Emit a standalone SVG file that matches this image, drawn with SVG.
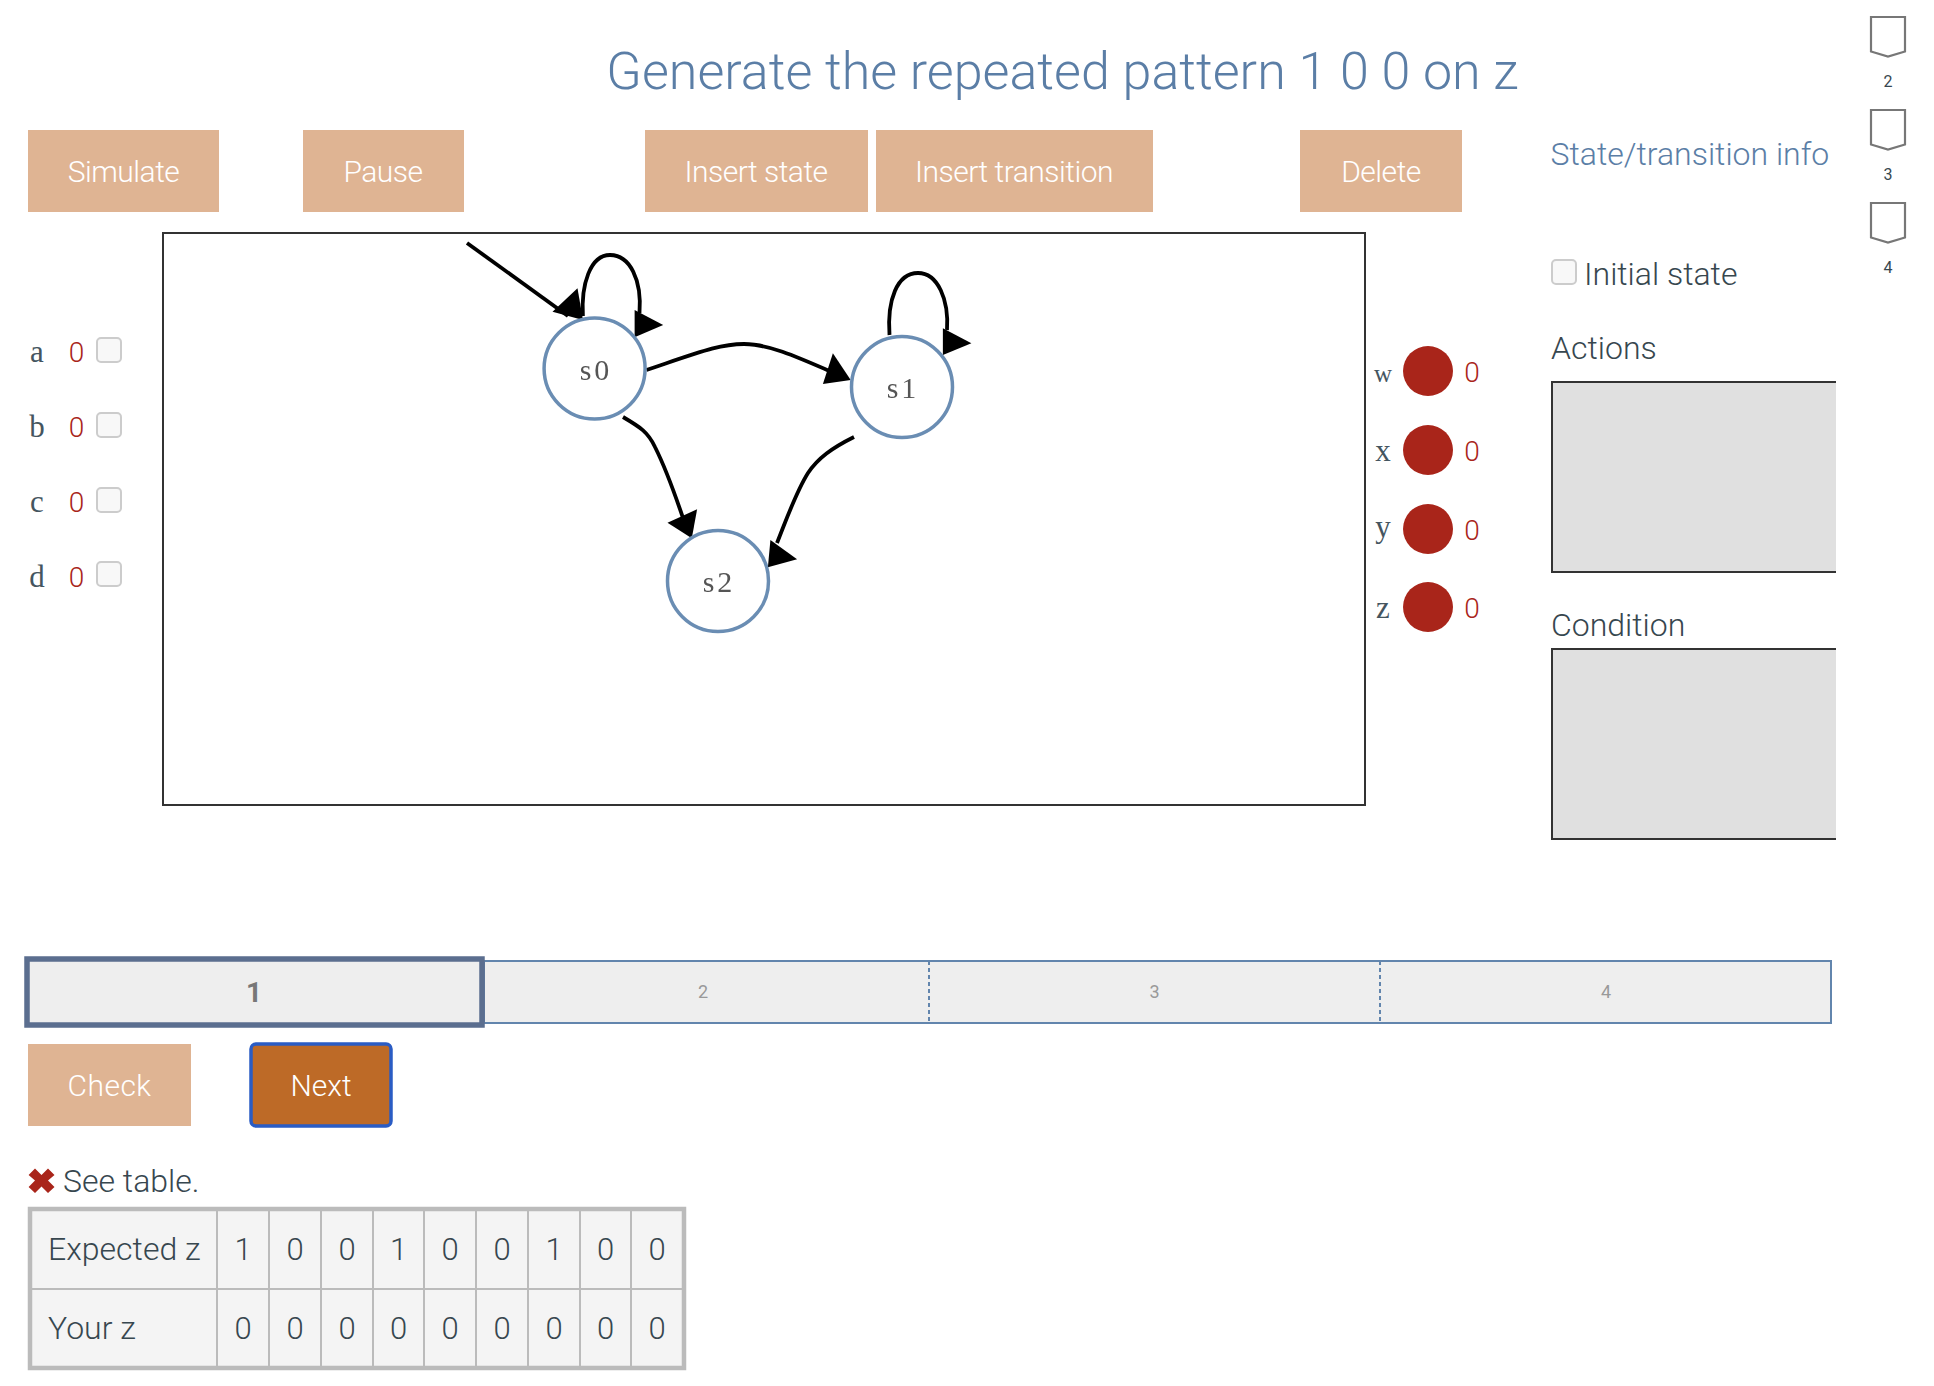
<svg xmlns="http://www.w3.org/2000/svg" width="1934" height="1386" viewBox="0 0 1934 1386">
<style>
text{font-family:Roboto,"Liberation Sans",sans-serif;font-weight:300;fill:#37474f}
.btn{fill:#dfb493}
.bt{fill:#fff;font-size:30px;text-anchor:middle;letter-spacing:-.5px}
.cb{fill:#f8f8f8;stroke:#ccc;stroke-width:2}
.mono{font-family:"Liberation Serif",serif;font-size:31px;font-weight:400;text-anchor:middle;fill:#455560}
.red{fill:#a9251a;font-size:28px;text-anchor:middle}
.led{fill:#a9251a}
.blue{fill:#5b7ea6}
.sh{fill:#fff;stroke:#777;stroke-width:2.2}
.sn{font-size:16px;text-anchor:middle;font-weight:400}
.ta{fill:#e0e0e0;stroke:#333;stroke-width:2}
.lab{font-size:32px}
.pn{font-size:18px;fill:#999;text-anchor:middle;font-weight:400}
.td{font-size:31px;text-anchor:middle}
.st{fill:#fff;stroke:#6a8db3;stroke-width:3.500}
.e{fill:none;stroke:#000;stroke-width:3.800}
.h{fill:#000}
.sl{font-family:"Liberation Serif",serif;font-size:30px;font-weight:400;text-anchor:middle;fill:#555;letter-spacing:3px}
.tl{stroke:#bbb;stroke-width:2}
</style>
<defs><filter id="soft" x="-5%" y="-5%" width="110%" height="110%"><feGaussianBlur stdDeviation="0.5"/></filter></defs>
<text id="title" x="1062.500" y="89" font-size="52" text-anchor="middle" class="blue">Generate the repeated pattern 1 0 0 on z</text>
<g id="btn-simulate"><rect class="btn" x="28" y="130" width="191" height="82"/><text class="bt" x="123.500" y="182">Simulate</text></g>
<g id="btn-pause"><rect class="btn" x="303" y="130" width="161" height="82"/><text class="bt" x="383" y="182">Pause</text></g>
<g id="btn-insert-state"><rect class="btn" x="645" y="130" width="223" height="82"/><text class="bt" x="756" y="182">Insert state</text></g>
<g id="btn-insert-transition"><rect class="btn" x="876" y="130" width="277" height="82"/><text class="bt" x="1014" y="182">Insert transition</text></g>
<g id="btn-delete"><rect class="btn" x="1300" y="130" width="162" height="82"/><text class="bt" x="1381" y="182">Delete</text></g>
<rect id="canvas" x="163" y="233" width="1202" height="572" fill="#fff" stroke="#333" stroke-width="2"/>
<g id="connectors" filter="url(#soft)">
<path class="e" d="M467 243L568 316"/><path class="h" d="M577.500 288.300L583 320L552.500 311.700Z"/>
<path class="e" d="M582.900 316C581 285 590 255 610 255C630 255 642 280 639.500 313"/><path class="h" d="M634.600 310L663.200 325L634.600 337.300Z"/>
<path class="e" d="M889.500 335C887 300 897 273 918 273C938 273 949 300 947 330"/><path class="h" d="M942.900 328.300L971.400 343.300L942.900 355Z"/>
<path class="e" d="M646.400 370C700 352 720 344 744 344C768 344 795 356 834 373"/><path class="h" d="M832.900 353.300L850.700 380L822.900 384Z"/>
<path class="e" d="M623 417C640 427 648 432 655 447C668 473 675 495 683 518"/><path class="h" d="M697.100 509.300L691.800 538.300L667.500 522.700Z"/>
<path class="e" d="M854 437C832 448 818 458 808 473C796 492 787 518 777 543"/><path class="h" d="M770.400 540L767.900 567.300L797.100 559.300Z"/>
</g>
<g id="s0" filter="url(#soft)"><circle class="st" cx="594.600" cy="368.500" r="50.500"/><text class="sl" x="596" y="380">s0</text></g>
<g id="s1" filter="url(#soft)"><circle class="st" cx="902" cy="387" r="50.500"/><text class="sl" x="903" y="398">s1</text></g>
<g id="s2" filter="url(#soft)"><circle class="st" cx="718" cy="581" r="50.500"/><text class="sl" x="719" y="592">s2</text></g>
<g id="in-a"><text class="mono" x="37" y="362">a</text><text class="red" x="76.500" y="362">0</text><rect class="cb" x="97" y="338" width="24" height="24" rx="4"/></g>
<g id="in-b"><text class="mono" x="37" y="437">b</text><text class="red" x="76.500" y="437">0</text><rect class="cb" x="97" y="413" width="24" height="24" rx="4"/></g>
<g id="in-c"><text class="mono" x="37" y="512">c</text><text class="red" x="76.500" y="512">0</text><rect class="cb" x="97" y="488" width="24" height="24" rx="4"/></g>
<g id="in-d"><text class="mono" x="37" y="587">d</text><text class="red" x="76.500" y="587">0</text><rect class="cb" x="97" y="562" width="24" height="24" rx="4"/></g>
<g id="out-w"><text class="mono" x="1383" y="382" style="font-size:25px">w</text><circle class="led" cx="1428" cy="371" r="25"/><text class="red" x="1472" y="382">0</text></g>
<g id="out-x"><text class="mono" x="1383" y="461">x</text><circle class="led" cx="1428" cy="450" r="25"/><text class="red" x="1472" y="461">0</text></g>
<g id="out-y"><text class="mono" x="1383" y="537">y</text><circle class="led" cx="1428" cy="529" r="25"/><text class="red" x="1472" y="540">0</text></g>
<g id="out-z"><text class="mono" x="1383" y="618">z</text><circle class="led" cx="1428" cy="607" r="25"/><text class="red" x="1472" y="618">0</text></g>
<text id="info" x="1550.500" y="165" font-size="32" class="blue">State/transition info</text>
<rect class="cb" x="1552" y="260" width="24" height="24" rx="4"/>
<text class="lab" x="1584" y="285">Initial state</text>
<text class="lab" x="1551" y="359">Actions</text>
<path class="ta" d="M1836 382H1552V572H1836" />
<text class="lab" x="1551" y="636">Condition</text>
<path class="ta" d="M1836 649H1552V839H1836"/>
<g id="tab-2"><path class="sh" d="M1871 17H1905V51.500L1888 56.500L1871 51.500Z"/><text class="sn" x="1888" y="87">2</text></g>
<g id="tab-3"><path class="sh" d="M1871 110H1905V144.500L1888 149.500L1871 144.500Z"/><text class="sn" x="1888" y="180">3</text></g>
<g id="tab-4"><path class="sh" d="M1871 203H1905V237.500L1888 242.500L1871 237.500Z"/><text class="sn" x="1888" y="273">4</text></g>
<g id="progress">
<rect x="484" y="961" width="1347" height="62" fill="#eee" stroke="#6285ad" stroke-width="2"/>
<path d="M929 961V1023M1380 961V1023" stroke="#6285ad" stroke-width="2" stroke-dasharray="4 3" fill="none"/>
<rect x="27" y="959" width="455" height="66" fill="#eee" stroke="#5b6e8f" stroke-width="5.500"/>
<text x="254" y="1002" font-size="28" text-anchor="middle" style="font-weight:700;fill:#777">1</text>
<text class="pn" x="703" y="998">2</text><text class="pn" x="1154.500" y="998">3</text><text class="pn" x="1606" y="998">4</text>
</g>
<g id="btn-check"><rect class="btn" x="28" y="1044" width="163" height="82"/><text class="bt" x="109.500" y="1096" style="letter-spacing:.5px">Check</text></g>
<g id="btn-next"><rect x="251" y="1044" width="140" height="82" rx="5" fill="#bd6a27" stroke="#2a5cc4" stroke-width="3.500"/><text class="bt" x="321" y="1096" style="letter-spacing:0">Next</text></g>
<path id="cross" d="M28.600 1175L35 1168.500L41.500 1175L48 1168.500L54.500 1175L48 1180.500L54.500 1187L48 1193L41.500 1186.500L35 1193L28.600 1187L35 1180.500Z" fill="#a9251a"/>
<text x="63" y="1192" font-size="32">See table.</text>
<g id="table">
<rect x="30" y="1209" width="654" height="159" fill="#f4f4f4" stroke="#bbb" stroke-width="4.500"/>
<path class="tl" d="M30 1289H684M217 1209V1368M269 1209V1368M321 1209V1368M373 1209V1368M424 1209V1368M476 1209V1368M528 1209V1368M580 1209V1368M631 1209V1368"/>
<text x="48" y="1260" font-size="32">Expected z</text><text x="48" y="1339" font-size="32">Your z</text>
<text class="td" x="243" y="1260">1</text><text class="td" x="295" y="1260">0</text><text class="td" x="347" y="1260">0</text><text class="td" x="398.500" y="1260">1</text><text class="td" x="450" y="1260">0</text><text class="td" x="502" y="1260">0</text><text class="td" x="554" y="1260">1</text><text class="td" x="605.500" y="1260">0</text><text class="td" x="657" y="1260">0</text>
<text class="td" x="243" y="1339">0</text><text class="td" x="295" y="1339">0</text><text class="td" x="347" y="1339">0</text><text class="td" x="398.500" y="1339">0</text><text class="td" x="450" y="1339">0</text><text class="td" x="502" y="1339">0</text><text class="td" x="554" y="1339">0</text><text class="td" x="605.500" y="1339">0</text><text class="td" x="657" y="1339">0</text>
</g>
</svg>
